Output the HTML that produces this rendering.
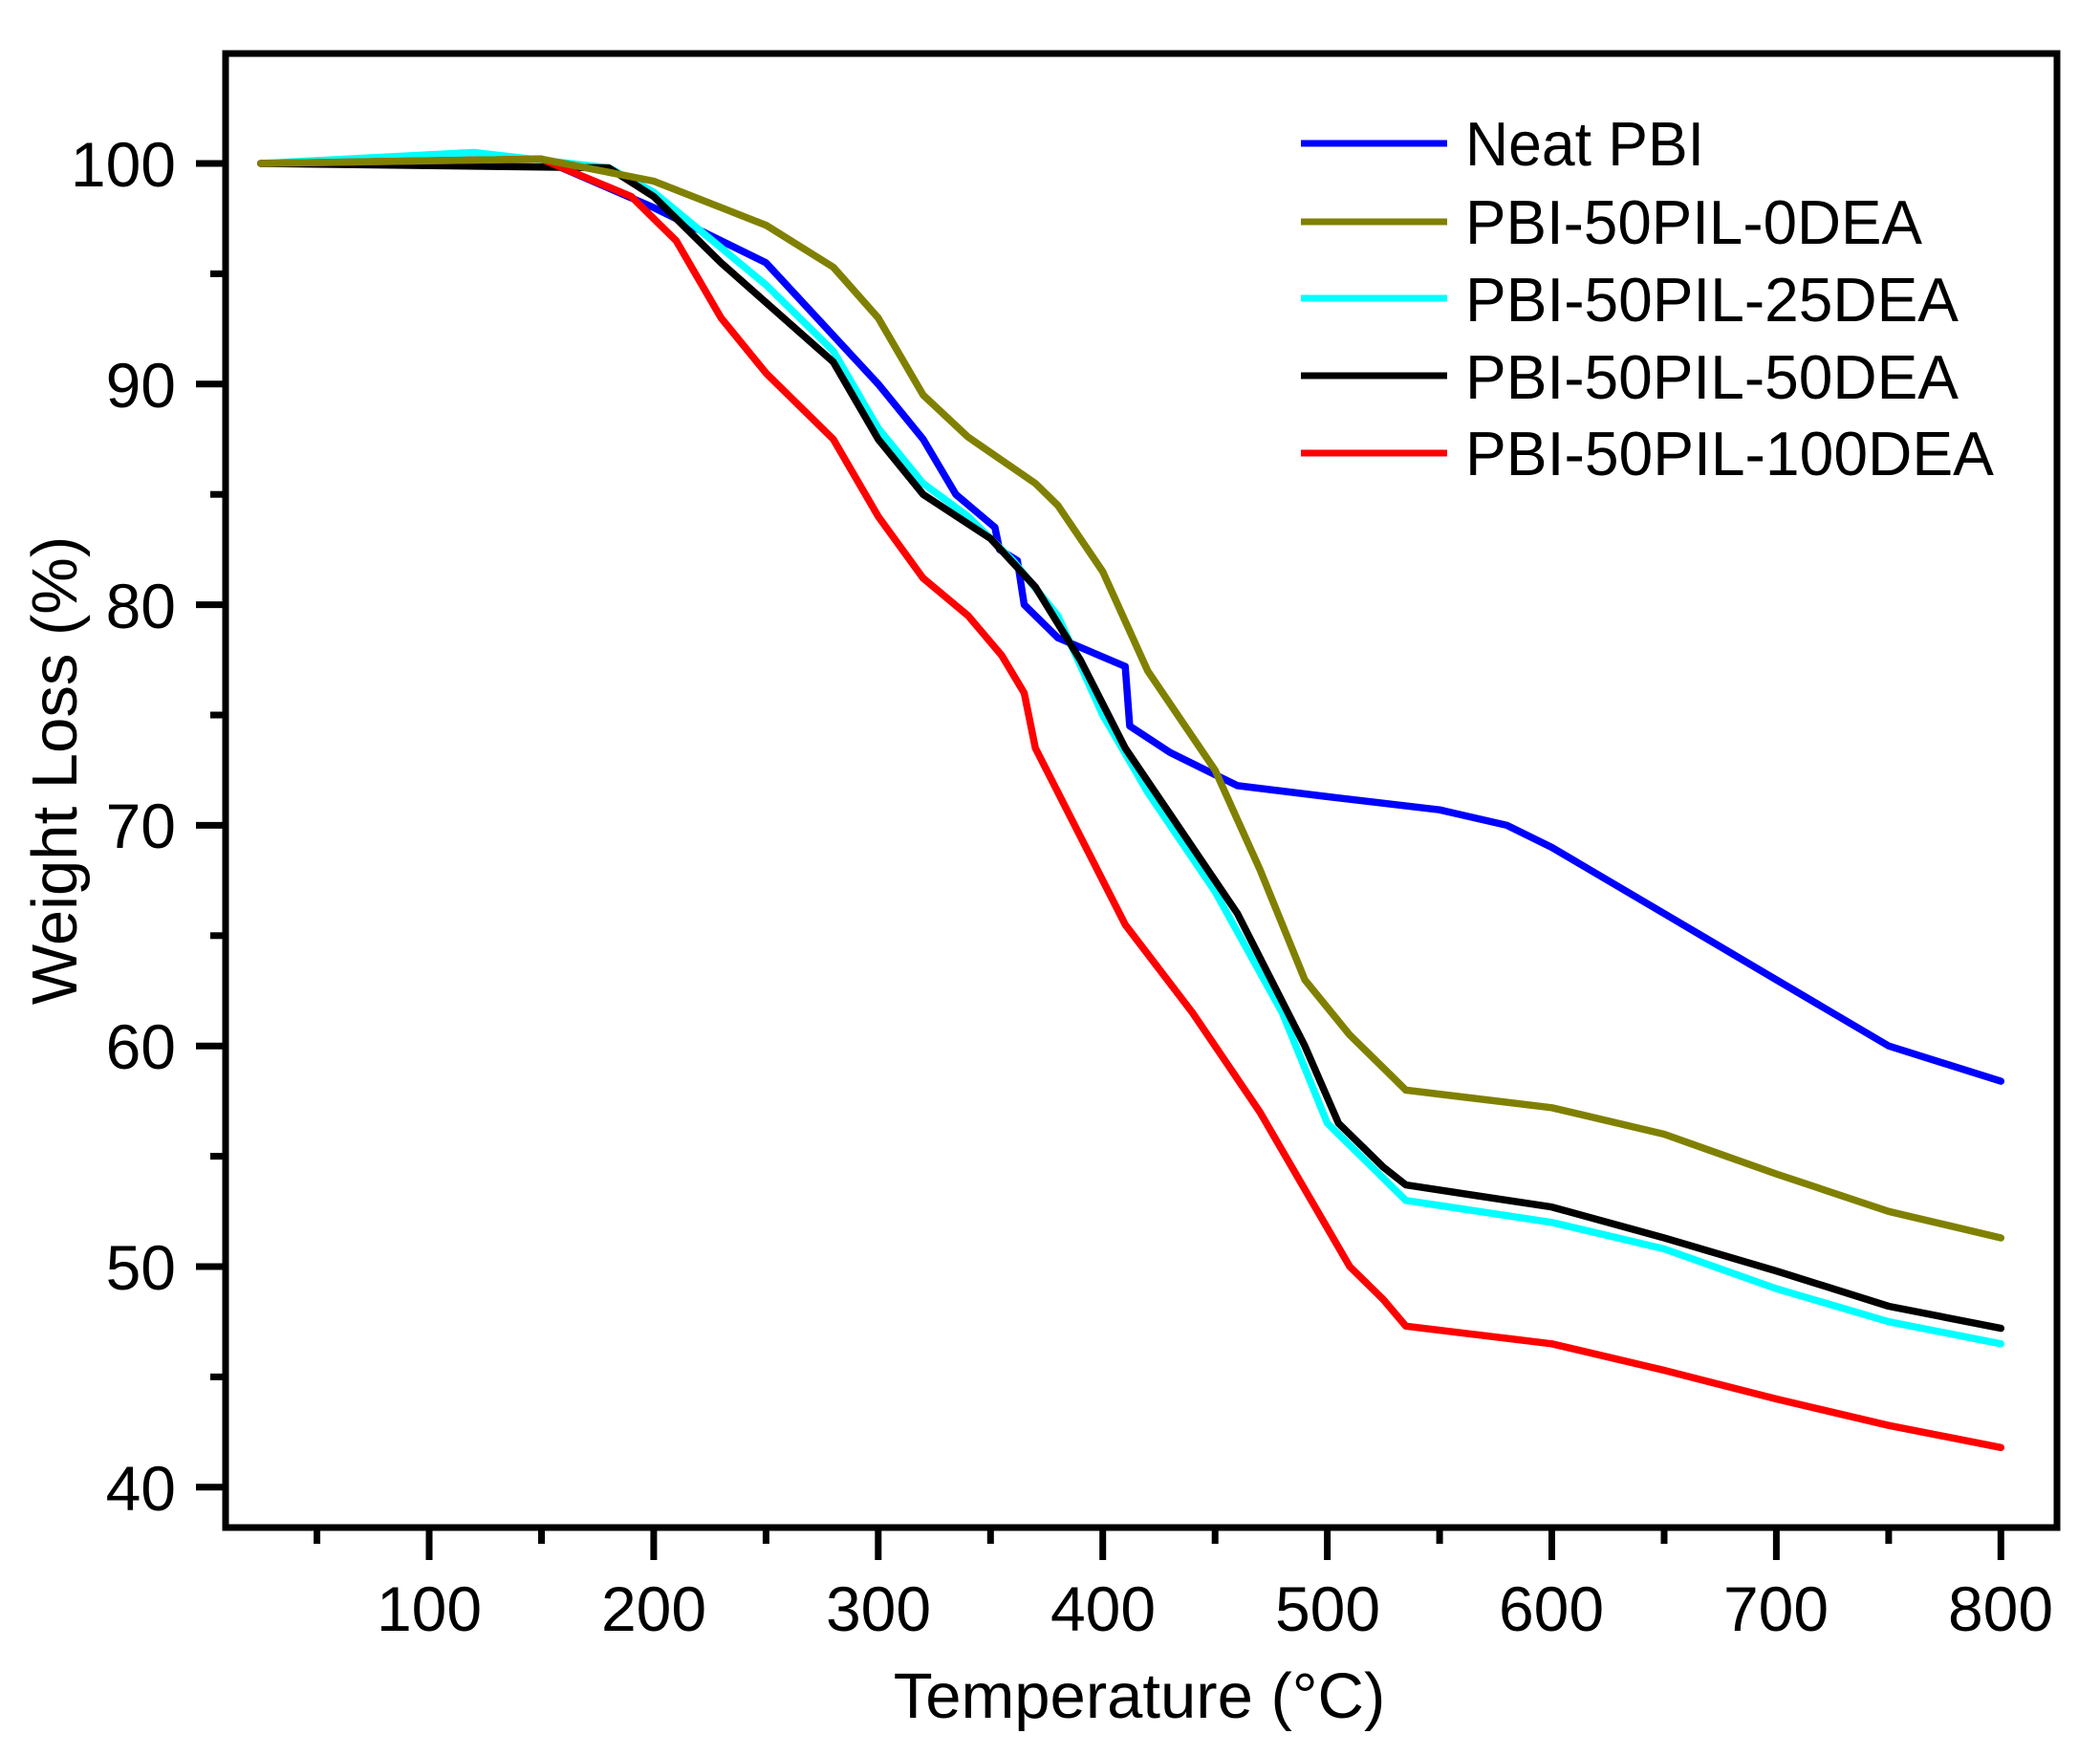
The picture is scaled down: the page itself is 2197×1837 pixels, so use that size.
<!DOCTYPE html>
<html><head><meta charset="utf-8"><style>html,body{margin:0;padding:0;background:#fff}svg{display:block}</style></head>
<body>
<svg width="2197" height="1837" viewBox="0 0 2197 1837" xmlns="http://www.w3.org/2000/svg" font-family="Liberation Sans, Arial, sans-serif">
<rect width="2197" height="1837" fill="#fff"/>
<g fill="none" stroke-width="7.5" stroke-linejoin="round" stroke-linecap="round">
<polyline stroke="#0000ff" points="272.8,171 566.5,166.4 683.9,217.2 801.4,274.9 918.8,401.8 965.8,459.5 1000,517.2 1040.9,551.8 1045.7,574.9 1064.4,586.4 1071.5,632.6 1106.7,667.2 1177.2,697.2 1181.9,759.5 1224.2,787.2 1294.6,821.9 1388.6,833.4 1506.1,847.2 1576.5,863.4 1623.5,886.5 1741,955.7 1858.4,1025 1975.9,1094.2 2093.3,1131.1"/>
<polyline stroke="#00ffff" points="272.8,171 496,159.5 636.9,175.6 683.9,201 801.4,298 871.8,367.2 918.8,448 965.8,505.7 1012.8,540.3 1059.7,586.4 1106.7,644.1 1153.7,748 1200.7,828.8 1271.2,932.6 1341.6,1059.6 1388.6,1175 1435.6,1221.1 1470.8,1255.8 1623.5,1278.8 1741,1306.5 1858.4,1348.1 1975.9,1382.7 2093.3,1405.8"/>
<polyline stroke="#000000" points="272.8,171 636.9,175.6 683.9,205.6 754.4,274.9 824.8,337.2 871.8,378.7 918.8,459.5 965.8,517.2 1036.3,563.4 1083.2,614.1 1130.2,690.3 1177.2,782.6 1224.2,851.9 1294.6,955.7 1365.1,1094.2 1400.3,1175 1447.3,1221.1 1470.8,1239.6 1623.5,1262.7 1741,1295 1858.4,1329.6 1975.9,1366.5 2093.3,1389.6"/>
<polyline stroke="#ff0000" points="272.8,171 566.5,166.4 660.4,205.6 707.4,251.8 754.4,332.6 801.4,390.3 871.8,459.5 918.8,540.3 965.8,604.9 1012.8,644.1 1048,685.7 1071.5,724.9 1083.2,782.6 1130.2,874.9 1177.2,967.3 1247.7,1059.6 1318.1,1163.4 1365.1,1244.2 1412.1,1325 1447.3,1359.6 1470.8,1387.3 1623.5,1405.8 1741,1433.5 1858.4,1463.5 1975.9,1491.2 2093.3,1514.3"/>
<polyline stroke="#808000" points="272.8,171 566.5,166.4 683.9,189.5 801.4,235.6 871.8,279.5 918.8,332.6 965.8,413.3 1012.8,457.2 1083.2,505.7 1106.7,528.7 1153.7,598 1200.7,701.8 1271.2,805.7 1318.1,909.6 1365.1,1025 1412.1,1082.7 1459.1,1128.8 1470.8,1140.4 1623.5,1158.8 1741,1186.5 1858.4,1228.1 1975.9,1267.3 2093.3,1295"/>
</g>
<rect x="236" y="56" width="1916" height="1542" fill="none" stroke="#000" stroke-width="7"/>
<g stroke="#000" stroke-width="7">
<line x1="236" y1="171" x2="205" y2="171"/><line x1="236" y1="401.8" x2="205" y2="401.8"/><line x1="236" y1="632.6" x2="205" y2="632.6"/><line x1="236" y1="863.4" x2="205" y2="863.4"/><line x1="236" y1="1094.2" x2="205" y2="1094.2"/><line x1="236" y1="1325" x2="205" y2="1325"/><line x1="236" y1="1555.8" x2="205" y2="1555.8"/>
<line x1="236" y1="286.4" x2="220" y2="286.4"/><line x1="236" y1="517.2" x2="220" y2="517.2"/><line x1="236" y1="748" x2="220" y2="748"/><line x1="236" y1="978.8" x2="220" y2="978.8"/><line x1="236" y1="1209.6" x2="220" y2="1209.6"/><line x1="236" y1="1440.4" x2="220" y2="1440.4"/>
<line x1="449" y1="1598" x2="449" y2="1632"/><line x1="683.9" y1="1598" x2="683.9" y2="1632"/><line x1="918.8" y1="1598" x2="918.8" y2="1632"/><line x1="1153.7" y1="1598" x2="1153.7" y2="1632"/><line x1="1388.6" y1="1598" x2="1388.6" y2="1632"/><line x1="1623.5" y1="1598" x2="1623.5" y2="1632"/><line x1="1858.4" y1="1598" x2="1858.4" y2="1632"/><line x1="2093.3" y1="1598" x2="2093.3" y2="1632"/>
<line x1="331.6" y1="1598" x2="331.6" y2="1615"/><line x1="566.5" y1="1598" x2="566.5" y2="1615"/><line x1="801.4" y1="1598" x2="801.4" y2="1615"/><line x1="1036.3" y1="1598" x2="1036.3" y2="1615"/><line x1="1271.2" y1="1598" x2="1271.2" y2="1615"/><line x1="1506.1" y1="1598" x2="1506.1" y2="1615"/><line x1="1741" y1="1598" x2="1741" y2="1615"/><line x1="1975.9" y1="1598" x2="1975.9" y2="1615"/>
</g>
<g font-size="66" fill="#000" text-anchor="end">
<text x="184" y="195">100</text><text x="184" y="426">90</text><text x="184" y="657">80</text><text x="184" y="887">70</text><text x="184" y="1118">60</text><text x="184" y="1349">50</text><text x="184" y="1580">40</text>
</g>
<g font-size="66" fill="#000" text-anchor="middle">
<text x="449" y="1706">100</text><text x="684" y="1706">200</text><text x="919" y="1706">300</text><text x="1154" y="1706">400</text><text x="1389" y="1706">500</text><text x="1623" y="1706">600</text><text x="1858" y="1706">700</text><text x="2093" y="1706">800</text>
</g>
<text x="1192" y="1797" font-size="67" text-anchor="middle">Temperature (°C)</text>
<text transform="translate(80,806) rotate(-90)" font-size="67" text-anchor="middle">Weight Loss (%)</text>
<g stroke-width="7">
<line x1="1361" y1="150" x2="1514" y2="150" stroke="#0000ff"/>
<line x1="1361" y1="232" x2="1514" y2="232" stroke="#808000"/>
<line x1="1361" y1="312" x2="1514" y2="312" stroke="#00ffff"/>
<line x1="1361" y1="393" x2="1514" y2="393" stroke="#000000"/>
<line x1="1361" y1="474" x2="1514" y2="474" stroke="#ff0000"/>
</g>
<g font-size="65" fill="#000">
<text x="1533" y="173" textLength="250" lengthAdjust="spacingAndGlyphs">Neat PBI</text>
<text x="1533" y="255" textLength="478" lengthAdjust="spacingAndGlyphs">PBI-50PIL-0DEA</text>
<text x="1533" y="336" textLength="516" lengthAdjust="spacingAndGlyphs">PBI-50PIL-25DEA</text>
<text x="1533" y="417" textLength="516" lengthAdjust="spacingAndGlyphs">PBI-50PIL-50DEA</text>
<text x="1533" y="497" textLength="553" lengthAdjust="spacingAndGlyphs">PBI-50PIL-100DEA</text>
</g>
</svg>
</body></html>
